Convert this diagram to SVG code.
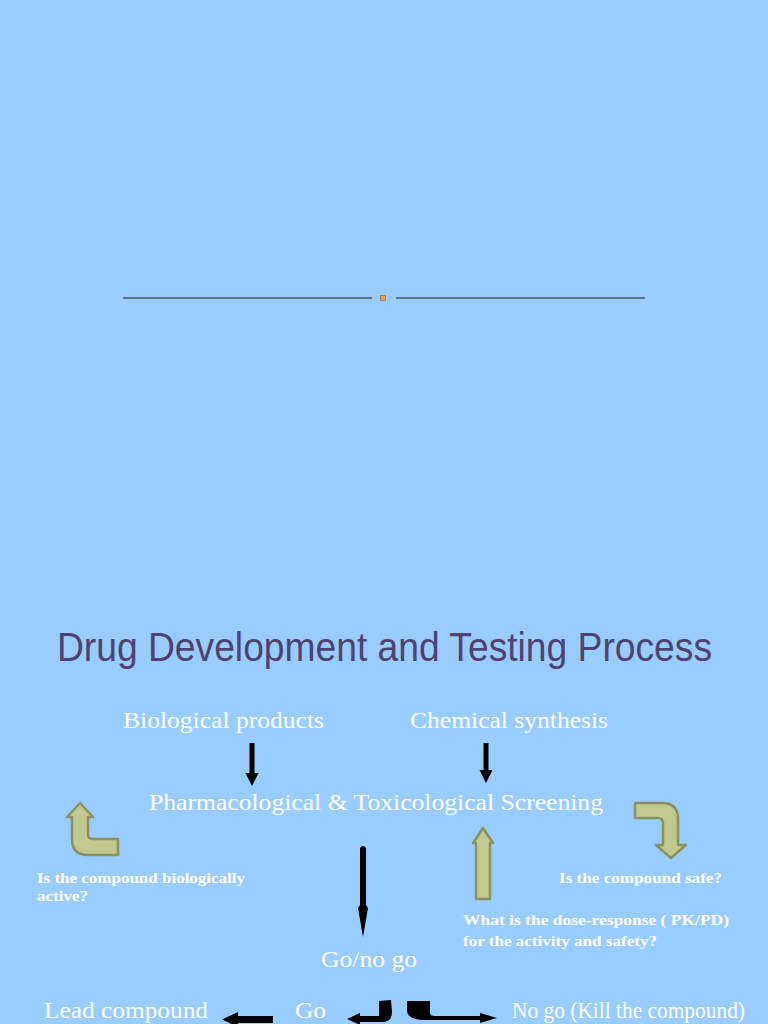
<svg xmlns="http://www.w3.org/2000/svg" width="768" height="1024" viewBox="0 0 768 1024">
<defs>
<style>
.title{font-family:"Comic Sans MS","Liberation Sans",sans-serif;font-size:40px;fill:#4E4370}
.lbl{font-family:"Liberation Serif",serif;font-size:24px;fill:#FFFFFF}
.q{font-family:"Liberation Serif",serif;font-size:15px;font-weight:bold;fill:#FFFFFF}
.blk{fill:#000000}
.grn{fill:#C2C98E;stroke:#8A9160;stroke-width:2.5;stroke-linejoin:round}
.rule{stroke:#4A5A6A;stroke-width:1.5}
</style>
</defs>
<rect width="768" height="1024" fill="#99CCFF"/>
<g id="divider">
<line class="rule" x1="123" y1="298" x2="372" y2="298"/>
<line class="rule" x1="396" y1="298" x2="645" y2="298"/>
<rect x="380.5" y="295.5" width="5" height="5" fill="#E8A040" stroke="#7A6A50" stroke-width="0.6"/>
</g>
<g id="title"><text class="title" x="57" y="661" textLength="655" lengthAdjust="spacingAndGlyphs">Drug Development and Testing Process</text></g>
<g id="bio"><text class="lbl" x="123" y="728" textLength="201" lengthAdjust="spacingAndGlyphs">Biological products</text></g>
<g id="chem"><text class="lbl" x="410" y="728" textLength="198" lengthAdjust="spacingAndGlyphs">Chemical synthesis</text></g>
<g id="screen"><text class="lbl" x="149" y="810" textLength="454" lengthAdjust="spacingAndGlyphs">Pharmacological &amp; Toxicological Screening</text></g>
<g id="gonogo"><text class="lbl" x="321" y="967" textLength="96" lengthAdjust="spacingAndGlyphs">Go/no go</text></g>
<g id="lead"><text class="lbl" x="44" y="1018" textLength="164" lengthAdjust="spacingAndGlyphs">Lead compound</text></g>
<g id="go"><text class="lbl" x="295" y="1018" textLength="31" lengthAdjust="spacingAndGlyphs">Go</text></g>
<g id="nogo"><text class="lbl" x="512" y="1018" font-size="23" textLength="233" lengthAdjust="spacingAndGlyphs">No go (Kill the compound)</text></g>
<g id="q-active">
<text class="q" x="37" y="883" textLength="208" lengthAdjust="spacingAndGlyphs">Is the compound biologically</text>
<text class="q" x="37" y="901" textLength="51" lengthAdjust="spacingAndGlyphs">active?</text>
</g>
<g id="q-safe"><text class="q" x="559" y="883" textLength="163" lengthAdjust="spacingAndGlyphs">Is the compound safe?</text></g>
<g id="q-dose">
<text class="q" x="463" y="925" textLength="266" lengthAdjust="spacingAndGlyphs">What is the dose-response  ( PK/PD)</text>
<text class="q" x="463" y="946" textLength="194" lengthAdjust="spacingAndGlyphs">for the activity and safety?</text>
</g>
<g id="connectors">
<path class="blk" d="M249.5,743 L254.5,743 L254.5,773 L258.5,773 L252,786 L245.5,773 L249.5,773 Z"/>
<path class="blk" d="M483.5,743 L488.5,743 L488.5,770 L492.5,770 L486,783 L479.5,770 L483.5,770 Z"/>
<path class="blk" d="M360,848 Q363,844 366,848 L366,905 L368,908 L363,937 L358,908 L360,905 Z"/>
<path class="grn" d="M483,828 L493,843 L490,843 L490,899 L476,899 L476,843 L473,843 Z"/>
<path class="grn" d="M80,803 L93,817 L88,817 L88,834 Q88,839 93,839 L118,839 L118,855 L88,855 Q72,855 72,839 L72,817 L67,817 Z"/>
<path class="grn" d="M635,803 L662,803 Q678,803 678,819 L678,845 L686,845 L671,858 L656,845 L663,845 L663,823 Q663,818 658,818 L635,818 Z"/>
<path class="blk" d="M273,1016 L273,1023 L238,1023 L238,1027 L222,1019.5 L238,1012 L238,1016 Z"/>
<path class="blk" d="M379,1001 L391,1000 L392,1012 Q392,1022 382,1022 L360,1022 L360,1025 L347,1019 L360,1013 L360,1016 L379,1016 Z"/>
<path class="blk" d="M407,1001 L430,1001 L430,1013 Q430,1016 435,1016 L480,1016 L480,1013 L497,1018 L480,1023 L480,1020 L425,1020 Q407,1020 407,1010 Z"/>
</g>
</svg>
